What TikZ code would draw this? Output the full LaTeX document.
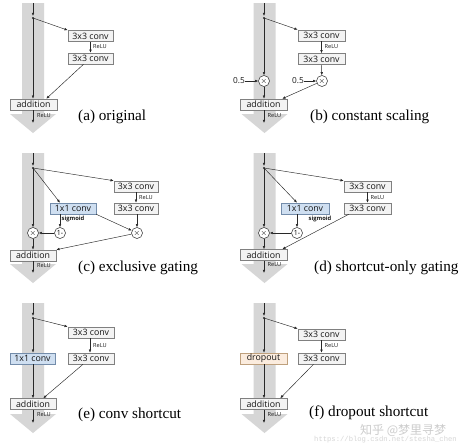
\documentclass[tikz,border=0pt]{standalone}
\usepackage{fontspec}
\setmainfont{Liberation Serif}
\setsansfont{Open Sans}
\newfontfamily\cjk{Noto Sans CJK SC}
\newfontfamily\wmono{Liberation Mono}
\usetikzlibrary{arrows.meta,calc}
\definecolor{bandgray}{RGB}{214,214,214}
\definecolor{boxline}{RGB}{128,128,128}
\definecolor{boxfill}{RGB}{243,243,243}
\definecolor{bluefill}{RGB}{207,223,241}
\definecolor{blueline}{RGB}{115,140,170}
\definecolor{peachfill}{RGB}{251,236,222}
\definecolor{peachline}{RGB}{190,160,125}
\definecolor{linecol}{RGB}{40,40,40}
\newcommand\bandshape[2]{\fill[bandgray] (#1-11,#2) -- (#1+11,#2) -- (#1+11,#2+111) -- (#1+23,#2+111) -- (#1,#2+130) -- (#1-23,#2+111) -- (#1-11,#2+111) -- cycle;}
\begin{document}
\begin{tikzpicture}[x=1pt,y=-1pt,
 box/.style={draw=boxline, fill=boxfill, line width=0.6pt, minimum height=11pt, inner sep=0pt, font=\sffamily\fontsize{8.8}{8.8}\selectfont, text=black!92},
 bluebox/.style={box, draw=blueline, fill=bluefill},
 peachbox/.style={box, draw=peachline, fill=peachfill},
 mult/.style={circle, draw=linecol, fill=white, line width=0.5pt, minimum size=11pt, inner sep=0pt, font=\fontsize{8}{8}\selectfont},
 onem/.style={mult, font=\sffamily\fontsize{7}{7}\selectfont},
 arr/.style={draw=linecol, line width=0.45pt, -{Latex[length=3.2pt,width=2.6pt]}},
 lbl/.style={font=\sffamily\fontsize{5.6}{5.6}\selectfont, inner sep=0pt, text=black!90},
 sig/.style={font=\sffamily\bfseries\fontsize{5.8}{5.8}\selectfont, inner sep=0pt, text=black!90},
 captxt/.style={font=\fontsize{15.2}{16}\selectfont, inner sep=0pt, anchor=west},
 num/.style={font=\sffamily\fontsize{8.3}{8.3}\selectfont, inner sep=0pt, text=black!90},
 dot/.style={circle, fill=linecol, inner sep=0pt, minimum size=2.4pt}]
\useasboundingbox (0,0) rectangle (474,447);
\fill[white] (0,0) rectangle (474,447);

% ---------------- bands
\bandshape{33}{3}
\bandshape{264.5}{3}
\bandshape{33}{153}
\bandshape{264.5}{153}
\bandshape{33}{303}
\bandshape{264.5}{303}

% ================= (a) original
\coordinate (atop) at (33,3);
\coordinate (aj) at (33,18);
\coordinate (abot) at (33,123);
\node[box, minimum width=45pt] (a1) at (90.5,36) {3x3 conv};
\node[box, minimum width=45pt] (a2) at (90.5,58.5) {3x3 conv};
\node[box, minimum width=47pt] (aadd) at (33.5,104.5) {addition};
\draw[arr] (atop) -- ($(aj)+(0,-2)$);
\node[dot] (ajd) at (aj) {};
\draw[arr] (aj) -- (a1.north west);
\draw[arr] (a1.south) -- (a2.north);
\node[lbl, anchor=west] (ra1) at (93,46.5) {ReLU};
\draw[arr] ($(a2.south)+(-7,0)$) -- ($(aadd.north east)+(-11,0)$);
\draw[arr] (aj) -- (aj |- aadd.north);
\draw[arr] (aj |- aadd.south) -- (abot);
\node[lbl, anchor=west] (ra2) at (37,115.5) {ReLU};
\node[captxt] (capa) at (78,117) {(a) original};

% ================= (b) constant scaling
\coordinate (btop) at (264,3);
\coordinate (bj) at (264,18);
\coordinate (bbot) at (264,123);
\node[box, minimum width=47pt] (b1) at (321.5,35.5) {3x3 conv};
\node[box, minimum width=47pt] (b2) at (321.5,59) {3x3 conv};
\node[mult] (bm1) at (264,81) {$\times$};
\node[mult] (bm2) at (322,81) {$\times$};
\node[num, anchor=east] (bh1) at (245,81) {0.5};
\node[num, anchor=east] (bh2) at (304,81) {0.5};
\node[box, minimum width=47pt] (badd) at (263.5,104.5) {addition};
\draw[arr] (btop) -- ($(bj)+(0,-2)$);
\node[dot] (bjd) at (bj) {};
\draw[arr] (bj) -- (b1.north west);
\draw[arr] (b1.south) -- (b2.north);
\node[lbl, anchor=west] (rb1) at (324.5,47) {ReLU};
\draw[arr] (b2.south) -- (bm2);
\draw[arr] (bj) -- (bm1);
\draw[arr] (bh1) -- (bm1);
\draw[arr] (bh2) -- (bm2);
\draw[arr] (bm1) -- (bm1 |- badd.north);
\draw[arr] (bm2) -- ($(badd.north east)+(-5,0)$);
\draw[arr] (bj |- badd.south) -- (bbot);
\node[lbl, anchor=west] (rb2) at (267.5,115.5) {ReLU};
\node[captxt] (capb) at (310,117) {(b) constant scaling};

% ================= (c) exclusive gating
\coordinate (ctop) at (33,153);
\coordinate (cj) at (33,168);
\coordinate (cbot) at (33,273);
\node[box, minimum width=44pt] (c1) at (136,186.5) {3x3 conv};
\node[box, minimum width=44pt] (c2) at (136,208.5) {3x3 conv};
\node[bluebox, minimum width=46pt] (cg) at (73,208.5) {1x1 conv};
\node[onem] (c1m) at (60,233) {1-};
\node[mult] (cmL) at (33,233) {$\times$};
\node[mult] (cmR) at (137,233) {$\times$};
\node[box, minimum width=46pt] (cadd) at (33,255.5) {addition};
\draw[arr] (ctop) -- ($(cj)+(0,-2)$);
\node[dot] (cjd) at (cj) {};
\draw[arr] (cj) -- (c1.north west);
\draw[arr] (cj) -- (cg.north west -| c1m);
\draw[arr] (c1.south) -- (c2.north);
\node[lbl, anchor=west] (rc1) at (139,197.5) {ReLU};
\draw[arr] (c2.south -| cmR) -- (cmR);
\draw[arr] (cg.south -| c1m) -- (c1m);
\node[sig, anchor=west] (sc) at (61.5,218.5) {sigmoid};
\draw[arr] (c1m) -- (cmL);
\draw[arr] (cg.south east) -- (cmR);
\draw[arr] (cj) -- (cmL);
\draw[arr] (cmL) -- (cadd.north);
\draw[arr] (cmR) -- (cadd.north east);
\draw[arr] (cadd.south) -- (cbot);
\node[lbl, anchor=west] (rc2) at (37,265.5) {ReLU};
\node[captxt] (capc) at (78,268) {(c) exclusive gating};

% ================= (d) shortcut-only gating
\coordinate (dtop) at (264,153);
\coordinate (dj) at (264,168);
\coordinate (dbot) at (264,273);
\node[box, minimum width=47pt] (d1) at (367.5,186.5) {3x3 conv};
\node[box, minimum width=47pt] (d2) at (367.5,208.5) {3x3 conv};
\node[bluebox, minimum width=48pt] (dg) at (305,208.5) {1x1 conv};
\node[onem] (d1m) at (297,233) {1-};
\node[mult] (dm) at (264,233) {$\times$};
\node[box, minimum width=47pt] (dadd) at (263.5,255) {addition};
\draw[arr] (dtop) -- ($(dj)+(0,-2)$);
\node[dot] (djd) at (dj) {};
\draw[arr] (dj) -- (d1.north west);
\draw[arr] (dj) -- (dg.north west -| d1m);
\draw[arr] (d1.south) -- (d2.north);
\node[lbl, anchor=west] (rd1) at (370.5,197.5) {ReLU};
\draw[arr] (dg.south -| d1m) -- (d1m);
\node[sig, anchor=west] (sd) at (308.5,219) {sigmoid};
\draw[arr] (d1m) -- (dm);
\draw[arr] (dj) -- (dm);
\draw[arr] (dm) -- (dm |- dadd.north);
\draw[arr] ($(d2.south west)+(5,0)$) -- ($(dadd.north east)+(-5,0)$);
\draw[arr] (dj |- dadd.south) -- (dbot);
\node[lbl, anchor=west] (rd2) at (267.5,265) {ReLU};
\node[captxt] (capd) at (314,268) {(d) shortcut-only gating};

% ================= (e) conv shortcut
\coordinate (etop) at (33,303);
\coordinate (ej) at (33,318);
\coordinate (ebot) at (33,423);
\node[box, minimum width=46pt] (e1) at (91,332.5) {3x3 conv};
\node[box, minimum width=46pt] (e2) at (91,358.5) {3x3 conv};
\node[bluebox, minimum width=45pt] (ec) at (32.5,358.5) {1x1 conv};
\node[box, minimum width=46pt] (eadd) at (33,404) {addition};
\draw[arr] (etop) -- ($(ej)+(0,-2)$);
\node[dot] (ejd) at (ej) {};
\draw[arr] (ej) -- (e1.north west);
\draw[arr] (e1.south -| 90,0) -- (e2.north -| 90,0);
\node[lbl, anchor=west] (re1) at (93,345.5) {ReLU};
\draw[arr] (ej) -- (ej |- ec.north);
\draw[arr] (ej |- ec.south) -- (ej |- eadd.north);
\draw[arr] ($(e2.south)+(-8,0)$) -- ($(eadd.north east)+(-13,0)$);
\draw[arr] (ej |- eadd.south) -- (ebot);
\node[lbl, anchor=west] (re2) at (37,414.5) {ReLU};
\node[captxt] (cape) at (78,415) {(e) conv shortcut};

% ================= (f) dropout shortcut
\coordinate (ftop) at (264,303);
\coordinate (fj) at (264,318);
\coordinate (fbot) at (264,423);
\node[box, minimum width=47pt] (f1) at (321.5,334.5) {3x3 conv};
\node[box, minimum width=47pt] (f2) at (321.5,358.5) {3x3 conv};
\node[peachbox, minimum width=47pt] (fd) at (263.5,358.5) {dropout};
\node[box, minimum width=47pt] (fadd) at (263.5,404) {addition};
\draw[arr] (ftop) -- ($(fj)+(0,-2)$);
\node[dot] (fjd) at (fj) {};
\draw[arr] (fj) -- (f1.north west);
\draw[arr] (f1.south) -- (f2.north);
\node[lbl, anchor=west] (rf1) at (324.5,346) {ReLU};
\draw[arr] (fj) -- (fj |- fd.north);
\draw[arr] (fj |- fd.south) -- (fj |- fadd.north);
\draw[arr] ($(f2.south)+(-8,0)$) -- ($(fadd.north east)+(-7,0)$);
\draw[arr] (fj |- fadd.south) -- (fbot);
\node[lbl, anchor=west] (rf2) at (267.5,414.5) {ReLU};
\node[captxt] (capf) at (309,413) {(f) dropout shortcut};

% watermark
\node[font=\cjk\fontsize{12}{12}\selectfont, text=black!20, anchor=west, inner sep=0pt] (wm1) at (360,430) {知乎 @梦里寻梦};
\node[font=\wmono\fontsize{7.2}{7.2}\selectfont, text=black!16, anchor=west, inner sep=0pt] (wm2) at (314,440) {https://blog.csdn.net/stesha\_chen};
\end{tikzpicture}
\end{document}
